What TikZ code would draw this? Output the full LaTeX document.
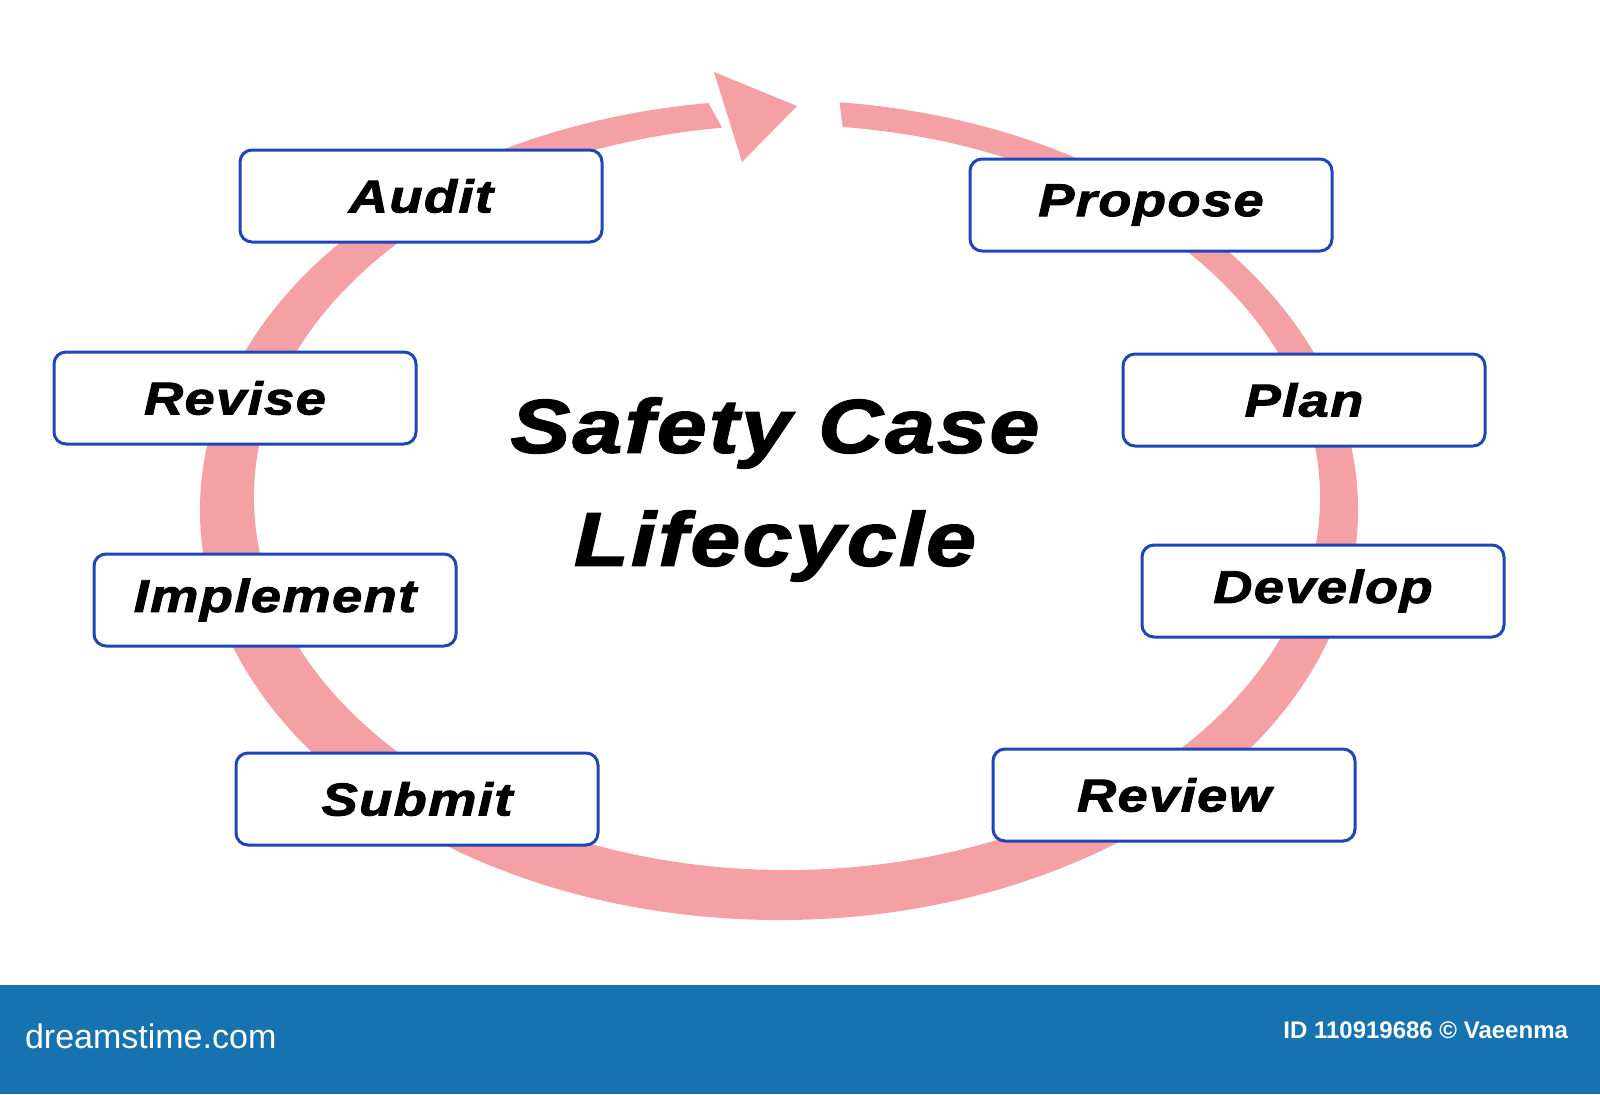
\documentclass[tikz,border=0pt]{standalone}
\usepackage{fontspec}
\setmainfont{Liberation Sans}
\newfontfamily\stepfont[LetterSpace=3,FakeBold=2,FakeStretch=1.18]{Liberation Sans}
\usetikzlibrary{positioning,calc}
\definecolor{ringpink}{RGB}{245,160,165}
\definecolor{boxblue}{RGB}{30,70,185}
\definecolor{barblue}{RGB}{22,115,175}
\tikzset{
  stepbox/.style={draw=boxblue,line width=1.5pt,rounded corners=6pt,fill=white,
    minimum width=181pt,minimum height=46pt,inner sep=0pt,
    font=\stepfont\fontsize{23}{25}\selectfont\bfseries\itshape},
  titletext/.style={font=\stepfont\fontsize{38}{40}\selectfont\bfseries\itshape},
}
\begin{document}
\begin{tikzpicture}[x=0.5pt,y=-0.5pt]
\useasboundingbox (0,0) rectangle (1600,1094);
\fill[white] (0,0) rectangle (1600,1094);

%ring, thin at the top and thick at the bottom
\fill[ringpink] ($(779,510)+(-84:579 and 410)$)
  arc[start angle=-84,end angle=263,x radius=579,y radius=410]
  -- ($(787,497.5)+(263:533 and 372.5)$)
  arc[start angle=263,end angle=-84,x radius=533,y radius=372.5] -- cycle;
\fill[ringpink] (714,72) -- (797,106) -- (742,162) -- cycle;

%steps
\node[stepbox] (audit) at (421,196) {Audit};
\node[stepbox] (propose) at (1151,205) {Propose};
\node[stepbox] (revise) at (235,398) {Revise};
\node[stepbox] (plan) at (1304,400) {Plan};
\node[stepbox] (implement) at (275,600) {Implement};
\node[stepbox] (develop) at (1323,591) {Develop};
\node[stepbox] (submit) at (417,799) {Submit};
\node[stepbox] (review) at (1174,795) {Review};

%title
\node[titletext] (title) at (775,433) {Safety Case};
\node[titletext] (title2) at (775,546) {Lifecycle};

%bar
\fill[barblue] (0,985) rectangle (1600,1094);
\node[white,anchor=west,font=\fontsize{17}{19}\selectfont] (site) at (18,1036) {dreamstime.com};
\node[white,anchor=east,font=\fontsize{12}{14}\selectfont\bfseries] (ident) at (1575,1030) {ID 110919686 © Vaeenma};
\end{tikzpicture}
\end{document}
